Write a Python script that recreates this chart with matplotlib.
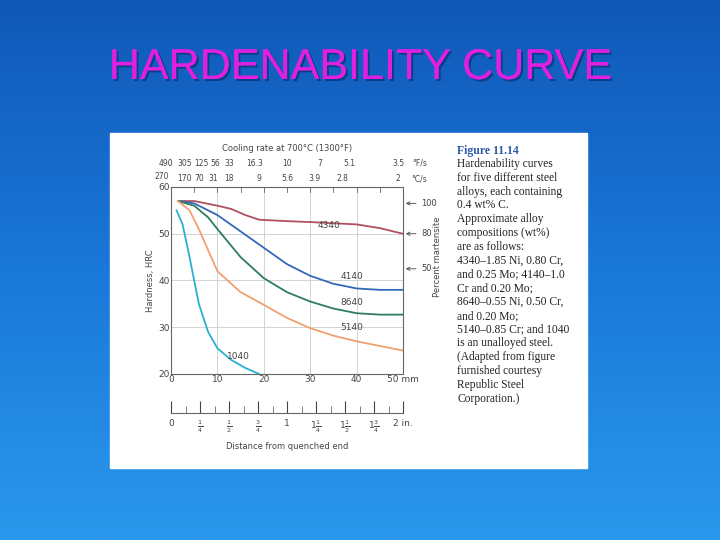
import matplotlib.pyplot as plt
import matplotlib.patheffects as pe
import numpy as np

# ── Data (distance mm, hardness HRC) ──
d_4340 = [1.5, 5, 10, 13, 16, 19, 25, 30, 40, 45, 50]
h_4340 = [57, 57, 56, 55.3, 54, 53, 52.7, 52.5, 52, 51.2, 50]
d_4140 = [1.5, 5, 10, 15, 20, 25, 30, 35, 40, 45, 50]
h_4140 = [57, 56.5, 54, 50.5, 47, 43.5, 41, 39.3, 38.3, 38, 38]
d_8640 = [1.5, 5, 8, 10, 15, 20, 25, 30, 35, 40, 45, 50]
h_8640 = [57, 56, 53.5, 51, 45, 40.5, 37.5, 35.5, 34, 33, 32.7, 32.7]
d_5140 = [1.5, 4, 6, 8, 10, 15, 20, 25, 30, 35, 40, 45, 50]
h_5140 = [57, 55, 51, 46.5, 42, 37.5, 34.8, 32, 29.8, 28.2, 27, 26, 25]
d_1040 = [1.2, 2.5, 4, 5, 6, 8, 10, 13, 16, 19]
h_1040 = [55, 52, 45, 40, 35, 29, 25.5, 23, 21.3, 20]

rate_f = ["490", "305", "125", "56", "33", "16.3", "10", "7", "5.1", "3.5"]
rate_f_pos = [-1, 3, 6.5, 9.5, 12.5, 18, 25, 32, 38.5, 49]
rate_c = ["170", "70", "31", "18", "9", "5.6", "3.9", "2.8", "2"]
rate_c_pos = [3, 6, 9, 12.5, 19, 25, 31, 37, 49]
inch_labels = ["0", r"$\frac{1}{4}$", r"$\frac{1}{2}$", r"$\frac{3}{4}$", "1",
               r"$1\frac{1}{4}$", r"$1\frac{1}{2}$", r"$1\frac{3}{4}$", "2 in."]

fig = plt.figure(figsize=(7.2, 5.4), dpi=100)

# ── Slide background ──
bg = fig.add_axes([0, 0, 1, 1])
grad = np.linspace(0, 1, 256).reshape(-1, 1)
bg.imshow(grad, aspect="auto", cmap=plt.matplotlib.colors.LinearSegmentedColormap.from_list(
    "slide", ["#1058b8", "#1a78d8", "#2a98ec"]), extent=[0, 1, 0, 1], origin="upper")
bg.add_patch(plt.Rectangle((110 / 720, 1 - 468 / 540), 477 / 720, 335 / 540,
                           color="white", transform=bg.transAxes))
bg.set_xlim(0, 1)
bg.set_ylim(0, 1)
bg.axis("off")
fig.text(0.5, 1 - 68 / 540, "HARDENABILITY CURVE", ha="center", va="center",
         fontsize=31, color="#e020e0", family="Liberation Sans",
         path_effects=[pe.withSimplePatchShadow(offset=(1.5, -1.5), shadow_rgbFace="#0a3070", alpha=0.7),
                       pe.Normal()])

# ── Main chart ──
ax = fig.add_axes([171 / 720, 1 - 374 / 540, 232 / 720, 187 / 540])
ax.plot(d_4340, h_4340, color="#b05060", lw=1.3)
ax.plot(d_4140, h_4140, color="#3468b8", lw=1.3)
ax.plot(d_8640, h_8640, color="#2e7d5b", lw=1.3)
ax.plot(d_5140, h_5140, color="#f0a070", lw=1.3)
ax.plot(d_1040, h_1040, color="#2ab0d0", lw=1.3)
ax.set_xlim(0, 50)
ax.set_ylim(20, 60)
ax.set_xticks([0, 10, 20, 30, 40, 50])
ax.set_xticklabels(["0", "10", "20", "30", "40", "50 mm"])
ax.set_yticks([20, 30, 40, 50, 60])
ax.grid(True, color="#cccccc", lw=0.6)
ax.tick_params(labelsize=6.5, colors="#444444", length=0, pad=1)
for s in ax.spines.values():
    s.set_color("#666666")
    s.set_linewidth(0.8)
ax.set_ylabel("Hardness, HRC", fontsize=6, color="#444444", labelpad=2)
for lbl, x, y in [("4340", 34, 50.7), ("4140", 39, 39.8), ("8640", 39, 34.4),
                  ("5140", 39, 28.9), ("1040", 14.5, 22.8)]:
    ax.text(x, y, lbl, fontsize=6.5, color="#444444", ha="center", va="bottom")
for tx in np.arange(0, 51, 5):
    ax.plot([tx, tx], [60, 59], color="#666666", lw=0.6, clip_on=False)

# cooling rate labels
ax.text(25, 67.6, "Cooling rate at 700°C (1300°F)", fontsize=6, color="#444444", ha="center")
for t, x in zip(rate_f, rate_f_pos):
    ax.text(x, 64.5, t, fontsize=5.5, color="#444444", ha="center")
for t, x in zip(rate_c, rate_c_pos):
    ax.text(x, 61.2, t, fontsize=5.5, color="#444444", ha="center")
ax.text(53.5, 64.5, "°F/s", fontsize=5.5, color="#444444", ha="center")
ax.text(53.5, 61.2, "°C/s", fontsize=5.5, color="#444444", ha="center")
ax.text(-0.5, 61.8, "270", fontsize=5.5, color="#444444", ha="right")

# percent martensite
for pct, y in [("100", 56.5), ("80", 50), ("50", 42.5)]:
    ax.annotate(pct, xy=(50, y), xytext=(54, y), fontsize=6, color="#444444",
                va="center", arrowprops=dict(arrowstyle="->", color="#444444", lw=0.6),
                annotation_clip=False)
ax.text(57.5, 45, "Percent martensite", fontsize=6, color="#444444", rotation=90,
        ha="center", va="center")

# inch scale
ai = fig.add_axes([171 / 720, 1 - 413 / 540, 232 / 720, 0.001])
ai.set_xlim(0, 50)
ai.set_yticks([])
for k in ["top", "left", "right"]:
    ai.spines[k].set_visible(False)
ai.spines["bottom"].set_color("#666666")
ai.set_xticks(np.arange(0, 2.01, 0.25) * 25.4 * 50 / 50.8)
ai.set_xticks(np.arange(0.125, 2, 0.25) * 25.4 * 50 / 50.8, minor=True)
ai.set_xticklabels(inch_labels)
ai.tick_params(axis="x", direction="in", length=9, labelsize=6.5, colors="#444444", pad=4)
ai.tick_params(axis="x", which="minor", direction="in", length=5, color="#666666")
ai.set_xlabel("Distance from quenched end", fontsize=6, color="#444444", labelpad=5)

# caption
fig.text(457 / 720, 1 - 145 / 540, "Figure 11.14", fontsize=8.5, color="#2a5aa8",
         weight="bold", family="Liberation Serif", va="top")
fig.text(457 / 720, 1 - 158 / 540,
         "Hardenability curves\nfor five different steel\nalloys, each containing\n"
         "0.4 wt% C.\nApproximate alloy\ncompositions (wt%)\nare as follows:\n"
         "4340–1.85 Ni, 0.80 Cr,\nand 0.25 Mo; 4140–1.0\nCr and 0.20 Mo;\n"
         "8640–0.55 Ni, 0.50 Cr,\nand 0.20 Mo;\n5140–0.85 Cr; and 1040\n"
         "is an unalloyed steel.\n(Adapted from figure\nfurnished courtesy\n"
         "Republic Steel\nCorporation.)",
         fontsize=8.3, color="#222222", family="Liberation Serif", va="top", linespacing=1.2)

fig.savefig("out.png", dpi=100)
